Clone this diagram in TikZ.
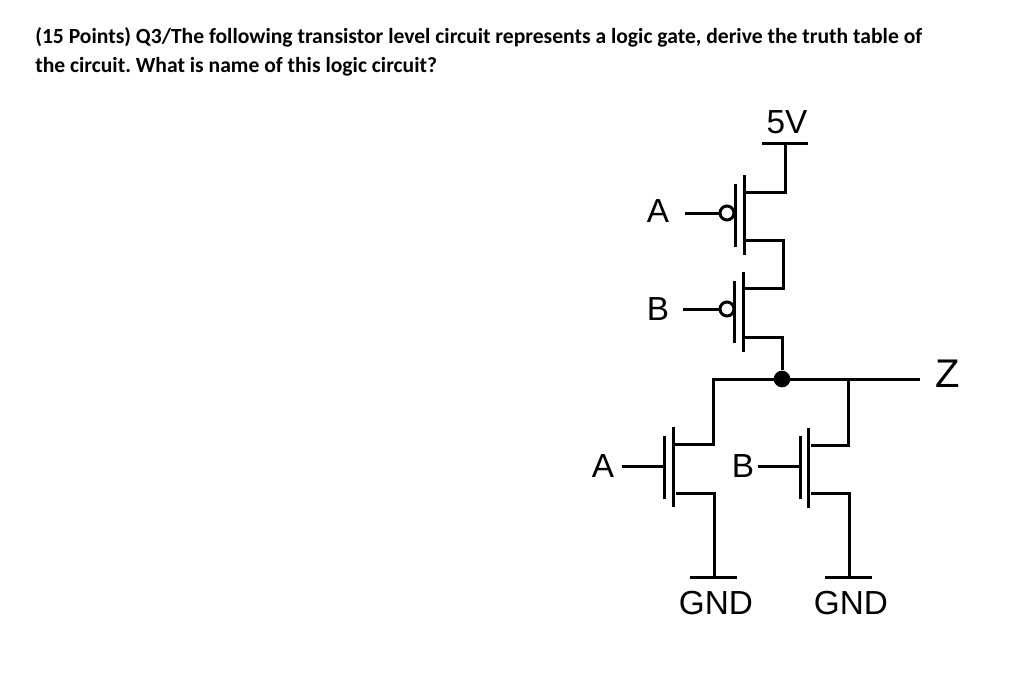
\documentclass[tikz,border=0pt]{standalone}
\usepackage{fontspec}
\setmainfont{Liberation Sans}
\newfontfamily\titlefont{Carlito}
\begin{document}
\begin{tikzpicture}[x=0.75pt,y=-0.75pt,
  wire/.style={line width=2.25pt,line cap=butt,line join=miter},
  lbl/.style={font=\fontsize{25}{28}\selectfont,inner sep=0pt,anchor=center},
  title/.style={font=\titlefont\bfseries\fontsize{16.2}{18}\selectfont\frenchspacing,inner sep=0pt,anchor=base west},
  bubble/.style={circle,draw,line width=2.25pt,fill=white,minimum size=10.5pt,inner sep=0pt},
  dot/.style={circle,fill=black,minimum size=12.5pt,inner sep=0pt}]
\useasboundingbox (0,0) rectangle (1024,693);
\node[title] (t1) at (35,43.5) {(15 Points) Q3/The following transistor level circuit represents a logic gate, derive the truth table of};
\node[title] (t2) at (35,72.5) {the circuit. What is name of this logic circuit?};
% labels
\node[lbl] (v5) at (787,122) {5V};
\node[lbl] (la1) at (658,211) {A};
\node[lbl] (lb1) at (658,309) {B};
\node[lbl] (la2) at (603,466) {A};
\node[lbl] (lb2) at (743,466) {B};
\node[lbl,font=\fontsize{30}{32}\selectfont] (lz) at (948,373.5) {Z};
\node[lbl] (g1) at (716,603) {GND};
\node[lbl] (g2) at (851,603) {GND};
% rails
\coordinate (vl) at (762,143); \coordinate (vr) at (808,143); \coordinate (vm) at (785,143);
\coordinate (g1l) at (690,577); \coordinate (g1r) at (737,577); \coordinate (g1m) at (714,577);
\coordinate (g2l) at (825,577); \coordinate (g2r) at (872,577); \coordinate (g2m) at (849,577);
\draw[wire] (vl) -- (vr);
\draw[wire] (g1l) -- (g1r);
\draw[wire] (g2l) -- (g2r);
% PMOS A
\coordinate (c1t) at (744,175); \coordinate (c1b) at (744,255);
\coordinate (h1t) at (744,192); \coordinate (h1b) at (744,240);
\coordinate (g1t) at (735,184); \coordinate (g1b) at (735,247);
\coordinate (ld1) at (685,213);
\draw[wire] (c1t) -- (c1b);
\draw[wire] (g1t) -- (g1b);
\draw[wire] (vm) |- (h1t);
\node[bubble] (b1) at (727,213) {};
\draw[wire] (ld1) -- (b1);
% PMOS B
\coordinate (c2t) at (743,272); \coordinate (c2b) at (743,352);
\coordinate (h2t) at (743,288); \coordinate (h2b) at (745,337);
\coordinate (g2t) at (734,281); \coordinate (g2b) at (734,343);
\coordinate (ld2) at (683,309);
\draw[wire] (c2t) -- (c2b);
\draw[wire] (g2t) -- (g2b);
\draw[wire] (h1b) -- (783,240) -- (783,288) -- (h2t);
\node[bubble] (b2) at (727,309) {};
\draw[wire] (ld2) -- (b2);
% output
\node[dot] (j) at (782,379) {};
\coordinate (wl) at (712,379); \coordinate (wr) at (920,379);
\draw[wire] (wl) -- (wr);
\draw[wire] (h2b) -- (782,337) -- (j);
% NMOS A
\coordinate (c3t) at (673,427); \coordinate (c3b) at (673,507);
\coordinate (h3t) at (675,444); \coordinate (h3b) at (676,493);
\coordinate (g3t) at (664,436); \coordinate (g3b) at (664,499);
\coordinate (ld3) at (622,466); \coordinate (ge3) at (664,466);
\draw[wire] (c3t) -- (c3b);
\draw[wire] (g3t) -- (g3b);
\draw[wire] (ld3) -- (ge3);
\draw[wire] (713,378) -- (713,444) -- (h3t);
\draw[wire] (h3b) -- (714,493) -- (g1m);
% NMOS B
\coordinate (c4t) at (808,428); \coordinate (c4b) at (808,508);
\coordinate (h4t) at (811,445); \coordinate (h4b) at (811,493);
\coordinate (g4t) at (800,436); \coordinate (g4b) at (800,499);
\coordinate (ld4) at (758,466); \coordinate (ge4) at (800,466);
\draw[wire] (c4t) -- (c4b);
\draw[wire] (g4t) -- (g4b);
\draw[wire] (ld4) -- (ge4);
\draw[wire] (848,379) -- (848,445) -- (h4t);
\draw[wire] (h4b) -- (849,493) -- (g2m);
\end{tikzpicture}
\end{document}
